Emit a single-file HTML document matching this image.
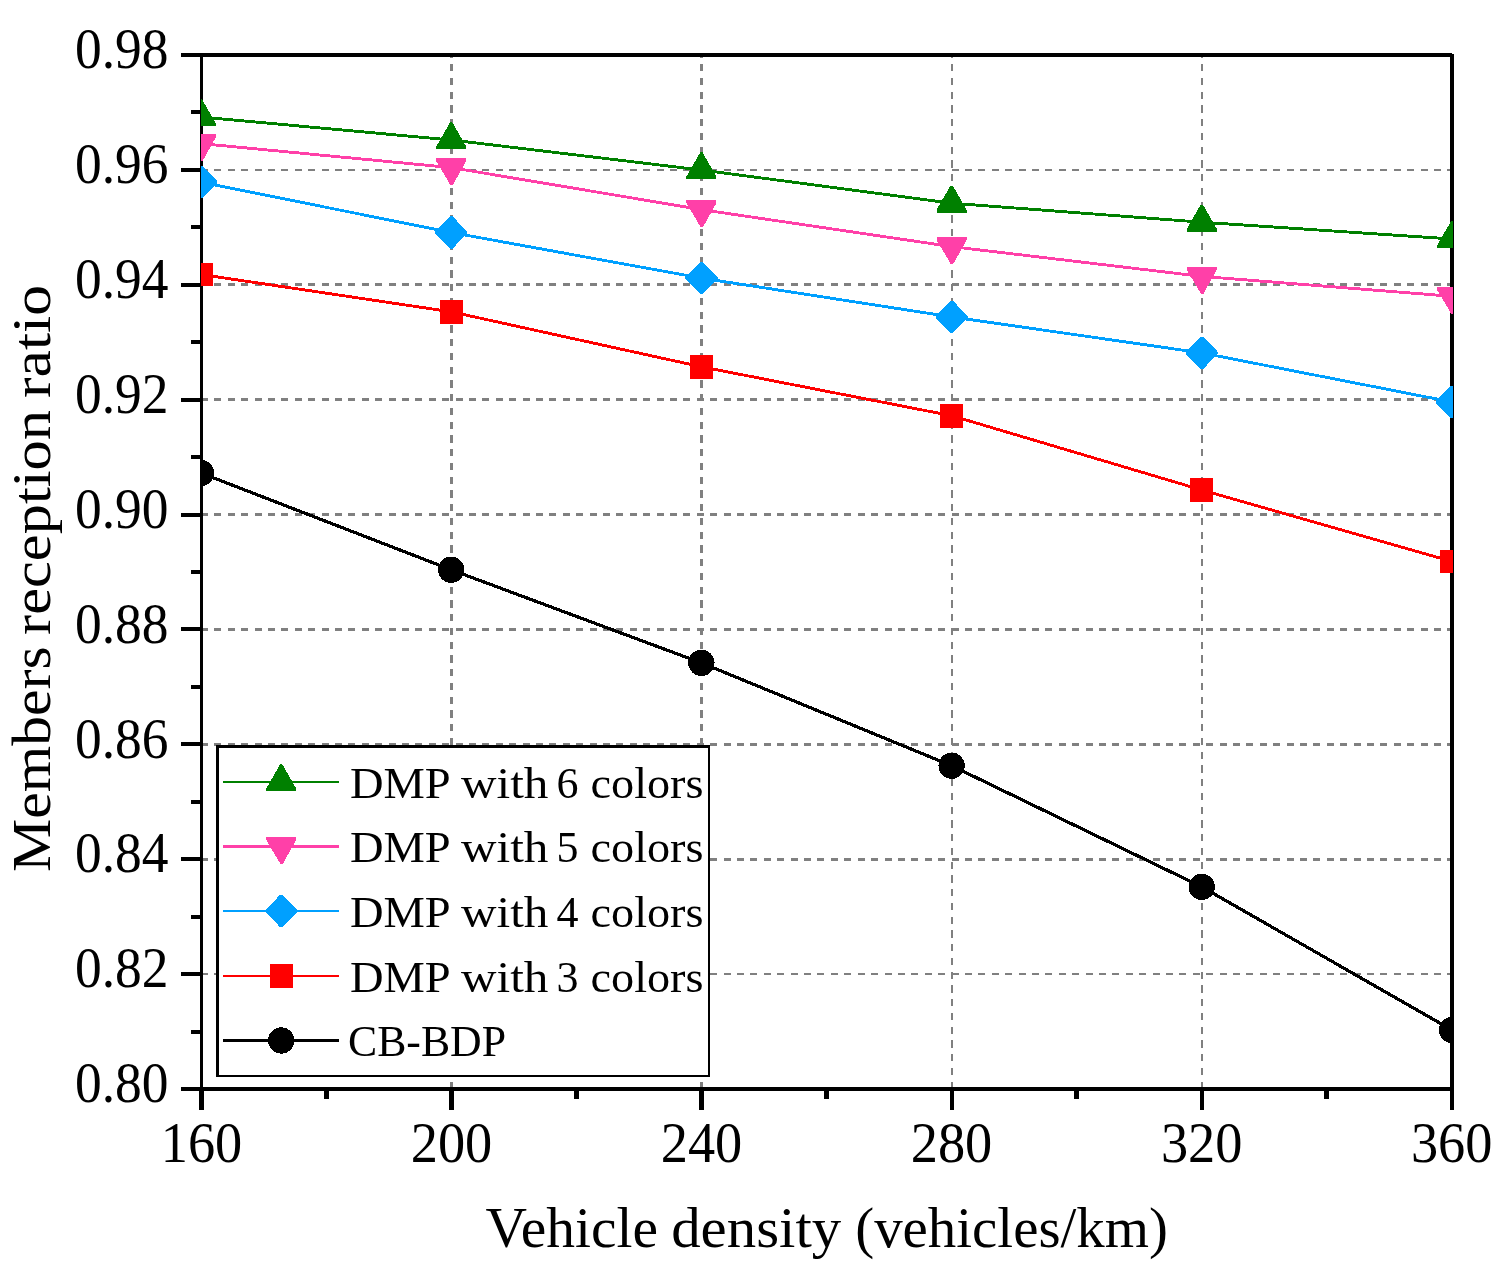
<!DOCTYPE html>
<html lang="en"><head><meta charset="utf-8"><title>Members reception ratio vs vehicle density</title>
<style>html,body{margin:0;padding:0;background:#fff}svg{display:block}text{font-family:"Liberation Serif","DejaVu Serif",serif;fill:#000}</style></head><body>
<svg width="1510" height="1277" viewBox="0 0 1510 1277">
<rect width="1510" height="1277" fill="#fff"/>
<defs><clipPath id="pc"><rect x="201" y="53" width="1252" height="1038"/></clipPath></defs>
<g stroke="#808080" fill="none" shape-rendering="crispEdges">
<line x1="201" x2="1452" y1="170" y2="170" stroke-width="2" stroke-dasharray="7 6.402"/>
<line x1="201" x2="1452" y1="284.5" y2="284.5" stroke-width="3" stroke-dasharray="7 6.402"/>
<line x1="201" x2="1452" y1="399.5" y2="399.5" stroke-width="3" stroke-dasharray="7 6.402"/>
<line x1="201" x2="1452" y1="514.5" y2="514.5" stroke-width="3" stroke-dasharray="7 6.402"/>
<line x1="201" x2="1452" y1="629.5" y2="629.5" stroke-width="3" stroke-dasharray="7 6.402"/>
<line x1="201" x2="1452" y1="744.5" y2="744.5" stroke-width="3" stroke-dasharray="7 6.402"/>
<line x1="201" x2="1452" y1="859.5" y2="859.5" stroke-width="3" stroke-dasharray="7 6.402"/>
<line x1="201" x2="1452" y1="974" y2="974" stroke-width="2" stroke-dasharray="7 6.402"/>
<line x1="451.5" x2="451.5" y1="55" y2="1089" stroke-width="3" stroke-dasharray="7.3 6.45" stroke-dashoffset="4.72"/>
<line x1="701.5" x2="701.5" y1="55" y2="1089" stroke-width="3" stroke-dasharray="7.3 6.45" stroke-dashoffset="4.72"/>
<line x1="952" x2="952" y1="55" y2="1089" stroke-width="2" stroke-dasharray="7.3 6.45" stroke-dashoffset="4.72"/>
<line x1="1202" x2="1202" y1="55" y2="1089" stroke-width="2" stroke-dasharray="7.3 6.45" stroke-dashoffset="4.72"/>
</g>
<g shape-rendering="crispEdges">
<rect x="181" y="53" width="1271" height="4" fill="#000"/>
<rect x="181" y="1087" width="1271" height="4" fill="#000"/>
<rect x="200" y="53" width="3" height="1038" fill="#000"/>
<rect x="1450" y="54" width="4" height="1056" fill="#000"/>
<rect x="181" y="168" width="20" height="4" fill="#000"/>
<rect x="181" y="283" width="20" height="4" fill="#000"/>
<rect x="181" y="398" width="20" height="4" fill="#000"/>
<rect x="181" y="513" width="20" height="4" fill="#000"/>
<rect x="181" y="627" width="20" height="4" fill="#000"/>
<rect x="181" y="742" width="20" height="4" fill="#000"/>
<rect x="181" y="857" width="20" height="4" fill="#000"/>
<rect x="181" y="972" width="20" height="4" fill="#000"/>
<rect x="191" y="110" width="10" height="4" fill="#000"/>
<rect x="191" y="225" width="10" height="4" fill="#000"/>
<rect x="191" y="340" width="10" height="4" fill="#000"/>
<rect x="191" y="455" width="10" height="4" fill="#000"/>
<rect x="191" y="570" width="10" height="4" fill="#000"/>
<rect x="191" y="685" width="10" height="4" fill="#000"/>
<rect x="191" y="800" width="10" height="4" fill="#000"/>
<rect x="191" y="915" width="10" height="4" fill="#000"/>
<rect x="191" y="1030" width="10" height="4" fill="#000"/>
<rect x="199" y="1089" width="5" height="21" fill="#000"/>
<rect x="449" y="1089" width="5" height="21" fill="#000"/>
<rect x="699" y="1089" width="5" height="21" fill="#000"/>
<rect x="950" y="1089" width="4" height="21" fill="#000"/>
<rect x="1200" y="1089" width="4" height="21" fill="#000"/>
<rect x="324" y="1089" width="5" height="10" fill="#000"/>
<rect x="574" y="1089" width="5" height="10" fill="#000"/>
<rect x="824" y="1089" width="5" height="10" fill="#000"/>
<rect x="1074" y="1089" width="5" height="10" fill="#000"/>
<rect x="1324" y="1089" width="5" height="10" fill="#000"/>
</g>
<g clip-path="url(#pc)" shape-rendering="crispEdges">
<polyline fill="none" stroke="#000000" stroke-width="3.2" points="201,473 451.2,569.8 701.4,662.9 951.6,765.7 1201.8,886.9 1452,1030"/>
<circle cx="201" cy="473" r="13.15" fill="#000000"/>
<circle cx="451.2" cy="569.8" r="13.15" fill="#000000"/>
<circle cx="701.4" cy="662.9" r="13.15" fill="#000000"/>
<circle cx="951.6" cy="765.7" r="13.15" fill="#000000"/>
<circle cx="1201.8" cy="886.9" r="13.15" fill="#000000"/>
<circle cx="1452" cy="1030" r="13.15" fill="#000000"/>
<polyline fill="none" stroke="#ff0000" stroke-width="2.9" points="201,274.5 451.2,311.8 701.4,366.8 951.6,415.7 1201.8,490 1452,561.5"/>
<rect x="189.4" y="262.6" width="23.2" height="23.8" fill="#ff0000"/>
<rect x="439.6" y="299.9" width="23.2" height="23.8" fill="#ff0000"/>
<rect x="689.8" y="354.9" width="23.2" height="23.8" fill="#ff0000"/>
<rect x="940" y="403.8" width="23.2" height="23.8" fill="#ff0000"/>
<rect x="1190.2" y="478.1" width="23.2" height="23.8" fill="#ff0000"/>
<rect x="1440.4" y="549.6" width="23.2" height="23.8" fill="#ff0000"/>
<polyline fill="none" stroke="#00a0ff" stroke-width="2.9" points="201,182.1 451.2,232.5 701.4,278.1 951.6,316.9 1201.8,352.9 1452,402"/>
<polygon points="184.9,181.1 200,165.9 202.2,165.9 217.1,181.1 217.1,183.1 202.2,198.3 200,198.3 184.9,183.1" fill="#00a0ff"/>
<polygon points="435.1,231.5 450.2,216.3 452.4,216.3 467.3,231.5 467.3,233.5 452.4,248.7 450.2,248.7 435.1,233.5" fill="#00a0ff"/>
<polygon points="685.3,277.1 700.4,261.9 702.6,261.9 717.5,277.1 717.5,279.1 702.6,294.3 700.4,294.3 685.3,279.1" fill="#00a0ff"/>
<polygon points="935.5,315.9 950.6,300.7 952.8,300.7 967.7,315.9 967.7,317.9 952.8,333.1 950.6,333.1 935.5,317.9" fill="#00a0ff"/>
<polygon points="1185.7,351.9 1200.8,336.7 1203,336.7 1217.9,351.9 1217.9,353.9 1203,369.1 1200.8,369.1 1185.7,353.9" fill="#00a0ff"/>
<polygon points="1435.9,401 1451,385.8 1453.2,385.8 1468.1,401 1468.1,403 1453.2,418.2 1451,418.2 1435.9,403" fill="#00a0ff"/>
<polyline fill="none" stroke="#ff40a8" stroke-width="2.9" points="201,143.6 451.2,167.6 701.4,209.6 951.6,246.6 1201.8,276.4 1452,296.3"/>
<polygon points="186,134.2 216,134.2 216,137 202.5,161.2 200.3,161.2 186,137" fill="#ff40a8"/>
<polygon points="436.2,158.2 466.2,158.2 466.2,161 452.7,185.2 450.5,185.2 436.2,161" fill="#ff40a8"/>
<polygon points="686.4,200.2 716.4,200.2 716.4,203 702.9,227.2 700.7,227.2 686.4,203" fill="#ff40a8"/>
<polygon points="936.6,237.2 966.6,237.2 966.6,240 953.1,264.2 950.9,264.2 936.6,240" fill="#ff40a8"/>
<polygon points="1186.8,267 1216.8,267 1216.8,269.8 1203.3,294 1201.1,294 1186.8,269.8" fill="#ff40a8"/>
<polygon points="1437,286.9 1467,286.9 1467,289.7 1453.5,313.9 1451.3,313.9 1437,289.7" fill="#ff40a8"/>
<polyline fill="none" stroke="#008000" stroke-width="2.9" points="201,117 451.2,140 701.4,170 951.6,203.2 1201.8,222.2 1452,239"/>
<polygon points="186,126.4 216,126.4 216,123.6 202.1,99.4 199.9,99.4 186,123.6" fill="#008000"/>
<polygon points="436.2,149.4 466.2,149.4 466.2,146.6 452.3,122.4 450.1,122.4 436.2,146.6" fill="#008000"/>
<polygon points="686.4,179.4 716.4,179.4 716.4,176.6 702.5,152.4 700.3,152.4 686.4,176.6" fill="#008000"/>
<polygon points="936.6,212.6 966.6,212.6 966.6,209.8 952.7,185.6 950.5,185.6 936.6,209.8" fill="#008000"/>
<polygon points="1186.8,231.6 1216.8,231.6 1216.8,228.8 1202.9,204.6 1200.7,204.6 1186.8,228.8" fill="#008000"/>
<polygon points="1437,248.4 1467,248.4 1467,245.6 1453.1,221.4 1450.9,221.4 1437,245.6" fill="#008000"/>
</g>
<g shape-rendering="crispEdges">
<rect x="216" y="745" width="494" height="332" fill="#fff"/>
<rect x="216" y="745" width="494" height="3" fill="#000"/>
<rect x="216" y="1075" width="494" height="2" fill="#000"/>
<rect x="216" y="745" width="3" height="332" fill="#000"/>
<rect x="708" y="745" width="2" height="332" fill="#000"/>
<rect x="223" y="781" width="116" height="2" fill="#008000"/>
<polygon points="266.2,791.4 296.2,791.4 296.2,788.6 282.3,764.4 280.1,764.4 266.2,788.6" fill="#008000"/>
<rect x="223" y="845" width="116" height="3" fill="#ff40a8"/>
<polygon points="266.2,837.1 296.2,837.1 296.2,839.9 282.7,864.1 280.5,864.1 266.2,839.9" fill="#ff40a8"/>
<rect x="223" y="910" width="116" height="2" fill="#00a0ff"/>
<polygon points="265.1,910 280.2,894.8 282.4,894.8 297.3,910 297.3,912 282.4,927.2 280.2,927.2 265.1,912" fill="#00a0ff"/>
<rect x="223" y="975" width="116" height="2" fill="#ff0000"/>
<rect x="269.6" y="964.1" width="23.2" height="23.8" fill="#ff0000"/>
<rect x="223" y="1039" width="116" height="3" fill="#000000"/>
<circle cx="281.2" cy="1040.5" r="13.15" fill="#000000"/>
</g>
<text y="797.8" font-size="44.4"><tspan x="350" textLength="99" lengthAdjust="spacingAndGlyphs">DMP</tspan> <tspan x="461" textLength="87.4" lengthAdjust="spacingAndGlyphs">with</tspan> <tspan x="556.5" textLength="22" lengthAdjust="spacingAndGlyphs">6</tspan> <tspan x="590.5" textLength="113" lengthAdjust="spacingAndGlyphs">colors</tspan></text>
<text y="862.3" font-size="44.4"><tspan x="350" textLength="99" lengthAdjust="spacingAndGlyphs">DMP</tspan> <tspan x="461" textLength="87.4" lengthAdjust="spacingAndGlyphs">with</tspan> <tspan x="556.5" textLength="22" lengthAdjust="spacingAndGlyphs">5</tspan> <tspan x="590.5" textLength="113" lengthAdjust="spacingAndGlyphs">colors</tspan></text>
<text y="926.8" font-size="44.4"><tspan x="350" textLength="99" lengthAdjust="spacingAndGlyphs">DMP</tspan> <tspan x="461" textLength="87.4" lengthAdjust="spacingAndGlyphs">with</tspan> <tspan x="556.5" textLength="22" lengthAdjust="spacingAndGlyphs">4</tspan> <tspan x="590.5" textLength="113" lengthAdjust="spacingAndGlyphs">colors</tspan></text>
<text y="991.8" font-size="44.4"><tspan x="350" textLength="99" lengthAdjust="spacingAndGlyphs">DMP</tspan> <tspan x="461" textLength="87.4" lengthAdjust="spacingAndGlyphs">with</tspan> <tspan x="556.5" textLength="22" lengthAdjust="spacingAndGlyphs">3</tspan> <tspan x="590.5" textLength="113" lengthAdjust="spacingAndGlyphs">colors</tspan></text>
<text x="348" y="1056.3" font-size="44.4" textLength="158" lengthAdjust="spacingAndGlyphs">CB-BDP</text>
<text x="75" y="68.2" font-size="56" textLength="93.5" lengthAdjust="spacingAndGlyphs">0.98</text>
<text x="75" y="183.09" font-size="56" textLength="93.5" lengthAdjust="spacingAndGlyphs">0.96</text>
<text x="75" y="297.98" font-size="56" textLength="93.5" lengthAdjust="spacingAndGlyphs">0.94</text>
<text x="75" y="412.87" font-size="56" textLength="93.5" lengthAdjust="spacingAndGlyphs">0.92</text>
<text x="75" y="527.76" font-size="56" textLength="93.5" lengthAdjust="spacingAndGlyphs">0.90</text>
<text x="75" y="642.65" font-size="56" textLength="93.5" lengthAdjust="spacingAndGlyphs">0.88</text>
<text x="75" y="757.54" font-size="56" textLength="93.5" lengthAdjust="spacingAndGlyphs">0.86</text>
<text x="75" y="872.43" font-size="56" textLength="93.5" lengthAdjust="spacingAndGlyphs">0.84</text>
<text x="75" y="987.32" font-size="56" textLength="93.5" lengthAdjust="spacingAndGlyphs">0.82</text>
<text x="75" y="1102.21" font-size="56" textLength="93.5" lengthAdjust="spacingAndGlyphs">0.80</text>
<text x="201.5" y="1161.6" font-size="56" text-anchor="middle" textLength="81.5" lengthAdjust="spacingAndGlyphs">160</text>
<text x="451.5" y="1161.6" font-size="56" text-anchor="middle" textLength="81.5" lengthAdjust="spacingAndGlyphs">200</text>
<text x="701.5" y="1161.6" font-size="56" text-anchor="middle" textLength="81.5" lengthAdjust="spacingAndGlyphs">240</text>
<text x="951.5" y="1161.6" font-size="56" text-anchor="middle" textLength="81.5" lengthAdjust="spacingAndGlyphs">280</text>
<text x="1201.7" y="1161.6" font-size="56" text-anchor="middle" textLength="81.5" lengthAdjust="spacingAndGlyphs">320</text>
<text x="1451.7" y="1161.6" font-size="56" text-anchor="middle" textLength="81.5" lengthAdjust="spacingAndGlyphs">360</text>
<text y="1246.8" font-size="56"><tspan x="485.6" textLength="172.3" lengthAdjust="spacingAndGlyphs">Vehicle</tspan> <tspan x="671.2" textLength="170" lengthAdjust="spacingAndGlyphs">density</tspan> <tspan x="855.2" textLength="312.8" lengthAdjust="spacingAndGlyphs">(vehicles/km)</tspan></text>
<text transform="translate(50,872) rotate(-90) scale(1,0.98)" font-size="56"><tspan x="0" textLength="225.7" lengthAdjust="spacingAndGlyphs">Members</tspan> <tspan x="237" textLength="225" lengthAdjust="spacingAndGlyphs">reception</tspan> <tspan x="474" textLength="113" lengthAdjust="spacingAndGlyphs">ratio</tspan></text>
</svg></body></html>
